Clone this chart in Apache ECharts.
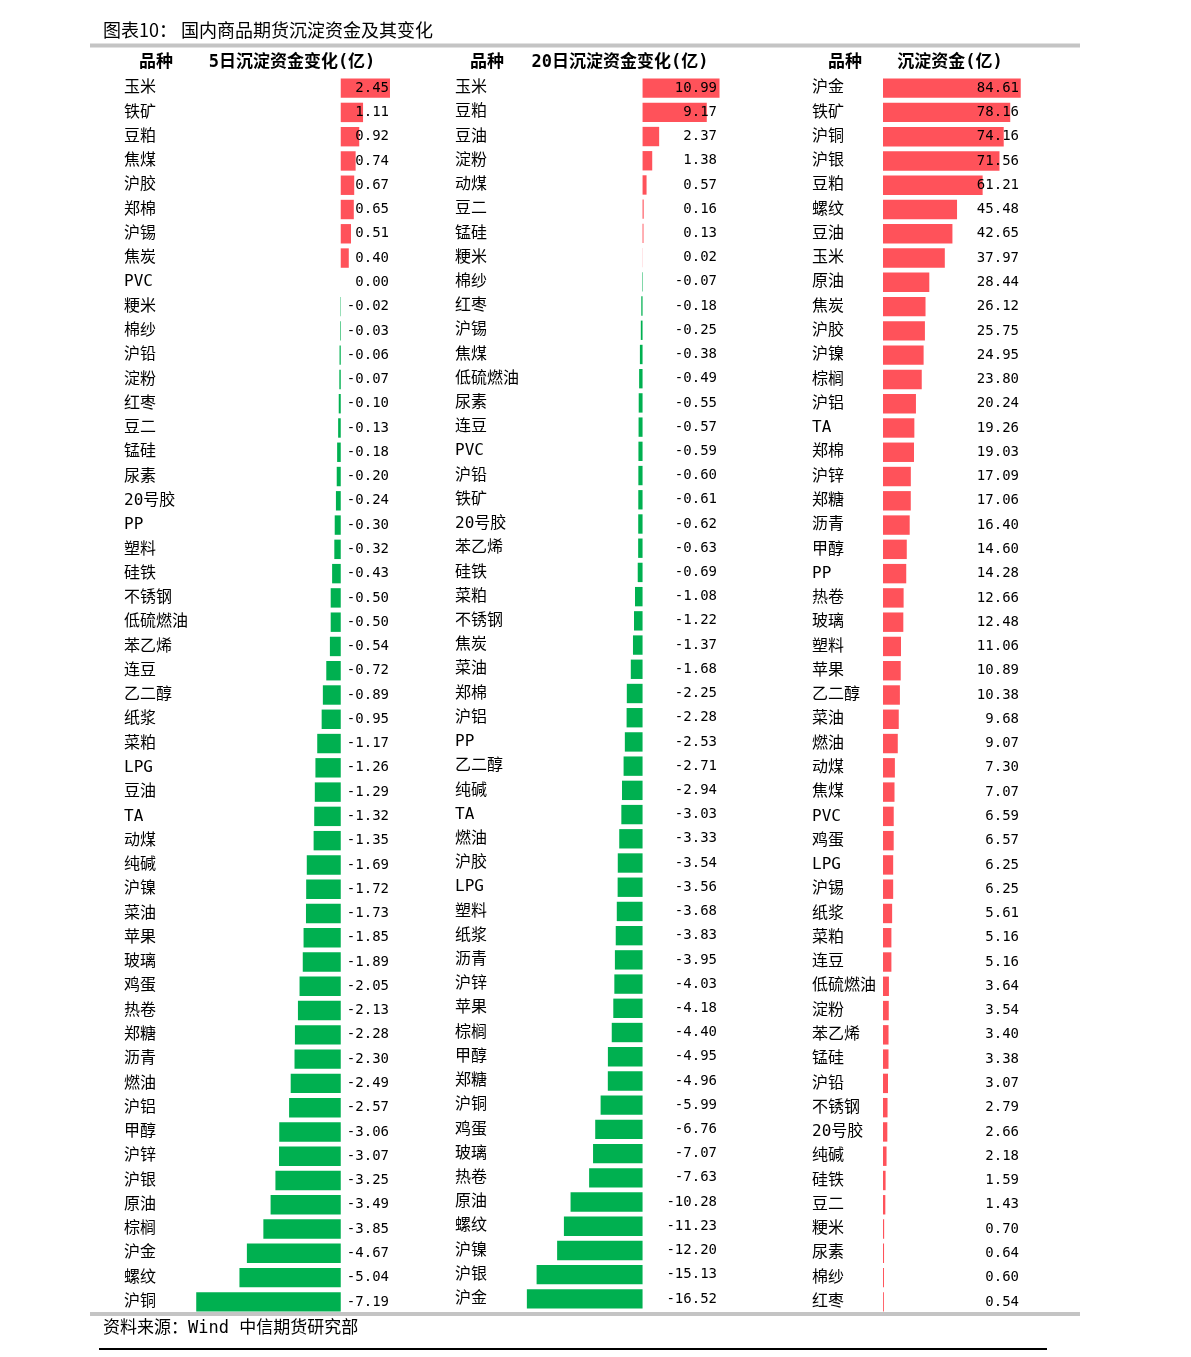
<!DOCTYPE html>
<html>
<head>
<meta charset="utf-8">
<title>国内商品期货沉淀资金及其变化</title>
<script src="https://cdn.jsdelivr.net/npm/echarts@6/dist/echarts.min.js"></script>
<style>
html, body { margin: 0; padding: 0; background: #fff; }
#main { width: 1191px; height: 1357px; }
</style>
</head>
<body>
<div id="main"></div>
<script>
// 5日沉淀资金变化(亿)
const names5 = ['玉米', '铁矿', '豆粕', '焦煤', '沪胶', '郑棉', '沪锡', '焦炭', 'PVC', '粳米',
  '棉纱', '沪铅', '淀粉', '红枣', '豆二', '锰硅', '尿素', '20号胶', 'PP', '塑料',
  '硅铁', '不锈钢', '低硫燃油', '苯乙烯', '连豆', '乙二醇', '纸浆', '菜粕', 'LPG', '豆油',
  'TA', '动煤', '纯碱', '沪镍', '菜油', '苹果', '玻璃', '鸡蛋', '热卷', '郑糖',
  '沥青', '燃油', '沪铝', '甲醇', '沪锌', '沪银', '原油', '棕榈', '沪金', '螺纹', '沪铜'];
const values5 = [2.45, 1.11, 0.92, 0.74, 0.67, 0.65, 0.51, 0.40, 0.00, -0.02,
  -0.03, -0.06, -0.07, -0.10, -0.13, -0.18, -0.20, -0.24, -0.30, -0.32,
  -0.43, -0.50, -0.50, -0.54, -0.72, -0.89, -0.95, -1.17, -1.26, -1.29,
  -1.32, -1.35, -1.69, -1.72, -1.73, -1.85, -1.89, -2.05, -2.13, -2.28,
  -2.30, -2.49, -2.57, -3.06, -3.07, -3.25, -3.49, -3.85, -4.67, -5.04, -7.19];

// 20日沉淀资金变化(亿)
const names20 = ['玉米', '豆粕', '豆油', '淀粉', '动煤', '豆二', '锰硅', '粳米', '棉纱', '红枣',
  '沪锡', '焦煤', '低硫燃油', '尿素', '连豆', 'PVC', '沪铅', '铁矿', '20号胶', '苯乙烯',
  '硅铁', '菜粕', '不锈钢', '焦炭', '菜油', '郑棉', '沪铝', 'PP', '乙二醇', '纯碱',
  'TA', '燃油', '沪胶', 'LPG', '塑料', '纸浆', '沥青', '沪锌', '苹果', '棕榈',
  '甲醇', '郑糖', '沪铜', '鸡蛋', '玻璃', '热卷', '原油', '螺纹', '沪镍', '沪银', '沪金'];
const values20 = [10.99, 9.17, 2.37, 1.38, 0.57, 0.16, 0.13, 0.02, -0.07, -0.18,
  -0.25, -0.38, -0.49, -0.55, -0.57, -0.59, -0.60, -0.61, -0.62, -0.63,
  -0.69, -1.08, -1.22, -1.37, -1.68, -2.25, -2.28, -2.53, -2.71, -2.94,
  -3.03, -3.33, -3.54, -3.56, -3.68, -3.83, -3.95, -4.03, -4.18, -4.40,
  -4.95, -4.96, -5.99, -6.76, -7.07, -7.63, -10.28, -11.23, -12.20, -15.13, -16.52];

// 沉淀资金(亿)
const namesTotal = ['沪金', '铁矿', '沪铜', '沪银', '豆粕', '螺纹', '豆油', '玉米', '原油', '焦炭',
  '沪胶', '沪镍', '棕榈', '沪铝', 'TA', '郑棉', '沪锌', '郑糖', '沥青', '甲醇',
  'PP', '热卷', '玻璃', '塑料', '苹果', '乙二醇', '菜油', '燃油', '动煤', '焦煤',
  'PVC', '鸡蛋', 'LPG', '沪锡', '纸浆', '菜粕', '连豆', '低硫燃油', '淀粉', '苯乙烯',
  '锰硅', '沪铅', '不锈钢', '20号胶', '纯碱', '硅铁', '豆二', '粳米', '尿素', '棉纱', '红枣'];
const valuesTotal = [84.61, 78.16, 74.16, 71.56, 61.21, 45.48, 42.65, 37.97, 28.44, 26.12,
  25.75, 24.95, 23.80, 20.24, 19.26, 19.03, 17.09, 17.06, 16.40, 14.60,
  14.28, 12.66, 12.48, 11.06, 10.89, 10.38, 9.68, 9.07, 7.30, 7.07,
  6.59, 6.57, 6.25, 6.25, 5.61, 5.16, 5.16, 3.64, 3.54, 3.40,
  3.38, 3.07, 2.79, 2.66, 2.18, 1.59, 1.43, 0.70, 0.64, 0.60, 0.54];

const FONT = '"DejaVu Sans Mono", "Noto Sans CJK SC", sans-serif';
const RED = '#ff525a';
const GREEN = '#00b050';

const panels = [
  { names: names5, values: values5, left: 190, width: 202, top: 76, height: 1238, min: -7.5, max: 2.55, nameMargin: 66, valueMargin: -3 },
  { names: names20, values: values20, left: 520, width: 201, top: 76, height: 1235, min: -17.5, max: 11.2, nameMargin: 65, valueMargin: -4 },
  { names: namesTotal, values: valuesTotal, left: 883, width: 140, top: 76, height: 1238, min: 0, max: 86, nameMargin: 71, valueMargin: -4 }
];

const grid = [], xAxis = [], yAxis = [], series = [];
panels.forEach((p, i) => {
  grid.push({ left: p.left, width: p.width, top: p.top, height: p.height });
  xAxis.push({ gridIndex: i, type: 'value', min: p.min, max: p.max, show: false });
  // 品种
  yAxis.push({
    gridIndex: i, type: 'category', inverse: true, position: 'left', data: p.names,
    axisLine: { show: false }, axisTick: { show: false }, splitLine: { show: false },
    axisLabel: { interval: 0, align: 'left', margin: p.nameMargin, fontSize: 16, color: '#000', fontFamily: FONT },
    z: 10
  });
  // 数值
  yAxis.push({
    gridIndex: i, type: 'category', inverse: true, position: 'right',
    data: p.values.map(v => v.toFixed(2)),
    axisLine: { show: false }, axisTick: { show: false }, splitLine: { show: false },
    axisLabel: { interval: 0, align: 'right', margin: p.valueMargin, fontSize: 14, color: '#000', fontFamily: FONT },
    z: 10
  });
  series.push({
    type: 'bar', xAxisIndex: i, yAxisIndex: i * 2, data: p.values,
    barWidth: '80%', silent: true,
    itemStyle: { color: params => params.value >= 0 ? RED : GREEN }
  });
});

function header(text, x) {
  return {
    type: 'text', x: x, y: 63,
    style: { text: text, font: 'bold 17px ' + FONT, fill: '#000', textAlign: 'center', textVerticalAlign: 'middle' }
  };
}

const chart = echarts.init(document.getElementById('main'));
chart.setOption({
  animation: false,
  backgroundColor: '#fff',
  grid: grid,
  xAxis: xAxis,
  yAxis: yAxis,
  series: series,
  graphic: [
    { type: 'text', x: 103, y: 30, style: { text: '图表10： 国内商品期货沉淀资金及其变化', font: '18px "Noto Sans CJK SC", sans-serif', fill: '#000', textVerticalAlign: 'middle' } },
    { type: 'line', shape: { x1: 90, y1: 45.5, x2: 1080, y2: 45.5 }, style: { stroke: '#c4c4c4', lineWidth: 4 } },
    header('品种', 156), header('5日沉淀资金变化(亿)', 292),
    header('品种', 487), header('20日沉淀资金变化(亿)', 620),
    header('品种', 845), header('沉淀资金(亿)', 950),
    { type: 'line', shape: { x1: 90, y1: 1314, x2: 1080, y2: 1314 }, style: { stroke: '#c4c4c4', lineWidth: 4 } },
    { type: 'text', x: 103, y: 1329, style: { text: '资料来源：Wind 中信期货研究部', font: '17px ' + FONT, fill: '#000', textVerticalAlign: 'middle' } },
    { type: 'line', shape: { x1: 99, y1: 1349, x2: 1047, y2: 1349 }, style: { stroke: '#000', lineWidth: 2 } }
  ]
});
</script>
</body>
</html>
